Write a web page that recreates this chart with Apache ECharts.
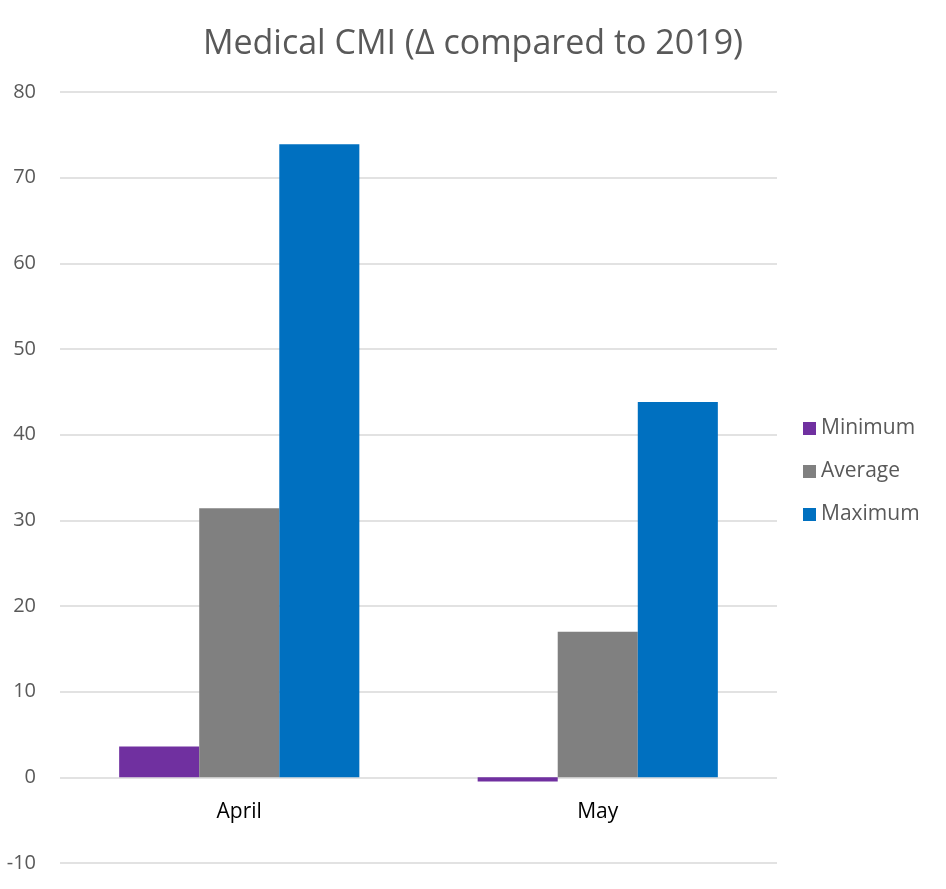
<!DOCTYPE html>
<html>
<head>
<meta charset="utf-8">
<script src="https://cdn.jsdelivr.net/npm/echarts@6/dist/echarts.min.js"></script>
<style>
html, body { margin: 0; padding: 0; background: #fff; }
#chart { width: 946px; height: 889px; }
</style>
</head>
<body>
<div id="chart"></div>
<script>
var months = ['April', 'May'];
var minimum_data = [3.6, -0.5];
var average_data = [31.4, 17.0];
var maximum_data = [73.9, 43.8];

var chart = echarts.init(document.getElementById('chart'));
var option = {
	animation: false,
	title: {
		text: 'Medical CMI (Δ compared to 2019)',
		left: 'center',
		top: 22,
		textStyle: {
			fontFamily: 'Open Sans',
			fontSize: 34,
			fontWeight: 'normal',
			color: '#595959'
		}
	},
	legend: {
		orient: 'vertical',
		left: 798,
		top: 413,
		itemWidth: 13,
		itemHeight: 13,
		itemGap: 22,
		icon: 'rect',
		textStyle: {
			fontFamily: 'Open Sans',
			fontSize: 21,
			color: '#595959'
		},
		data: ['Minimum', 'Average', 'Maximum']
	},
	grid: {
		left: 60,
		right: 169,
		top: 92,
		bottom: 26,
		outerBoundsMode: 'none'
	},
	xAxis: {
		type: 'category',
		data: months,
		axisLine: { show: false },
		axisTick: { show: false },
		axisLabel: {
			// labels sit under the zero line, not the -10 line
			margin: -61,
			fontFamily: 'Open Sans',
			fontSize: 21,
			color: '#000'
		}
	},
	yAxis: {
		type: 'value',
		min: -10,
		max: 80,
		interval: 10,
		axisLabel: {
			margin: 24,
			fontFamily: 'Open Sans',
			fontSize: 20,
			color: '#595959'
		},
		splitLine: { lineStyle: { color: '#d9d9d9', width: 1.5 } }
	},
	series: [
		{ name: 'Minimum', type: 'bar', data: minimum_data, barGap: '0%', barCategoryGap: '33%', itemStyle: { color: '#7030a0' } },
		{ name: 'Average', type: 'bar', data: average_data, itemStyle: { color: '#808080' } },
		{ name: 'Maximum', type: 'bar', data: maximum_data, itemStyle: { color: '#0070c0' } }
	]
};
chart.setOption(option);
window.addEventListener('resize', function(){
	chart.resize();
});
</script>
</body>
</html>
